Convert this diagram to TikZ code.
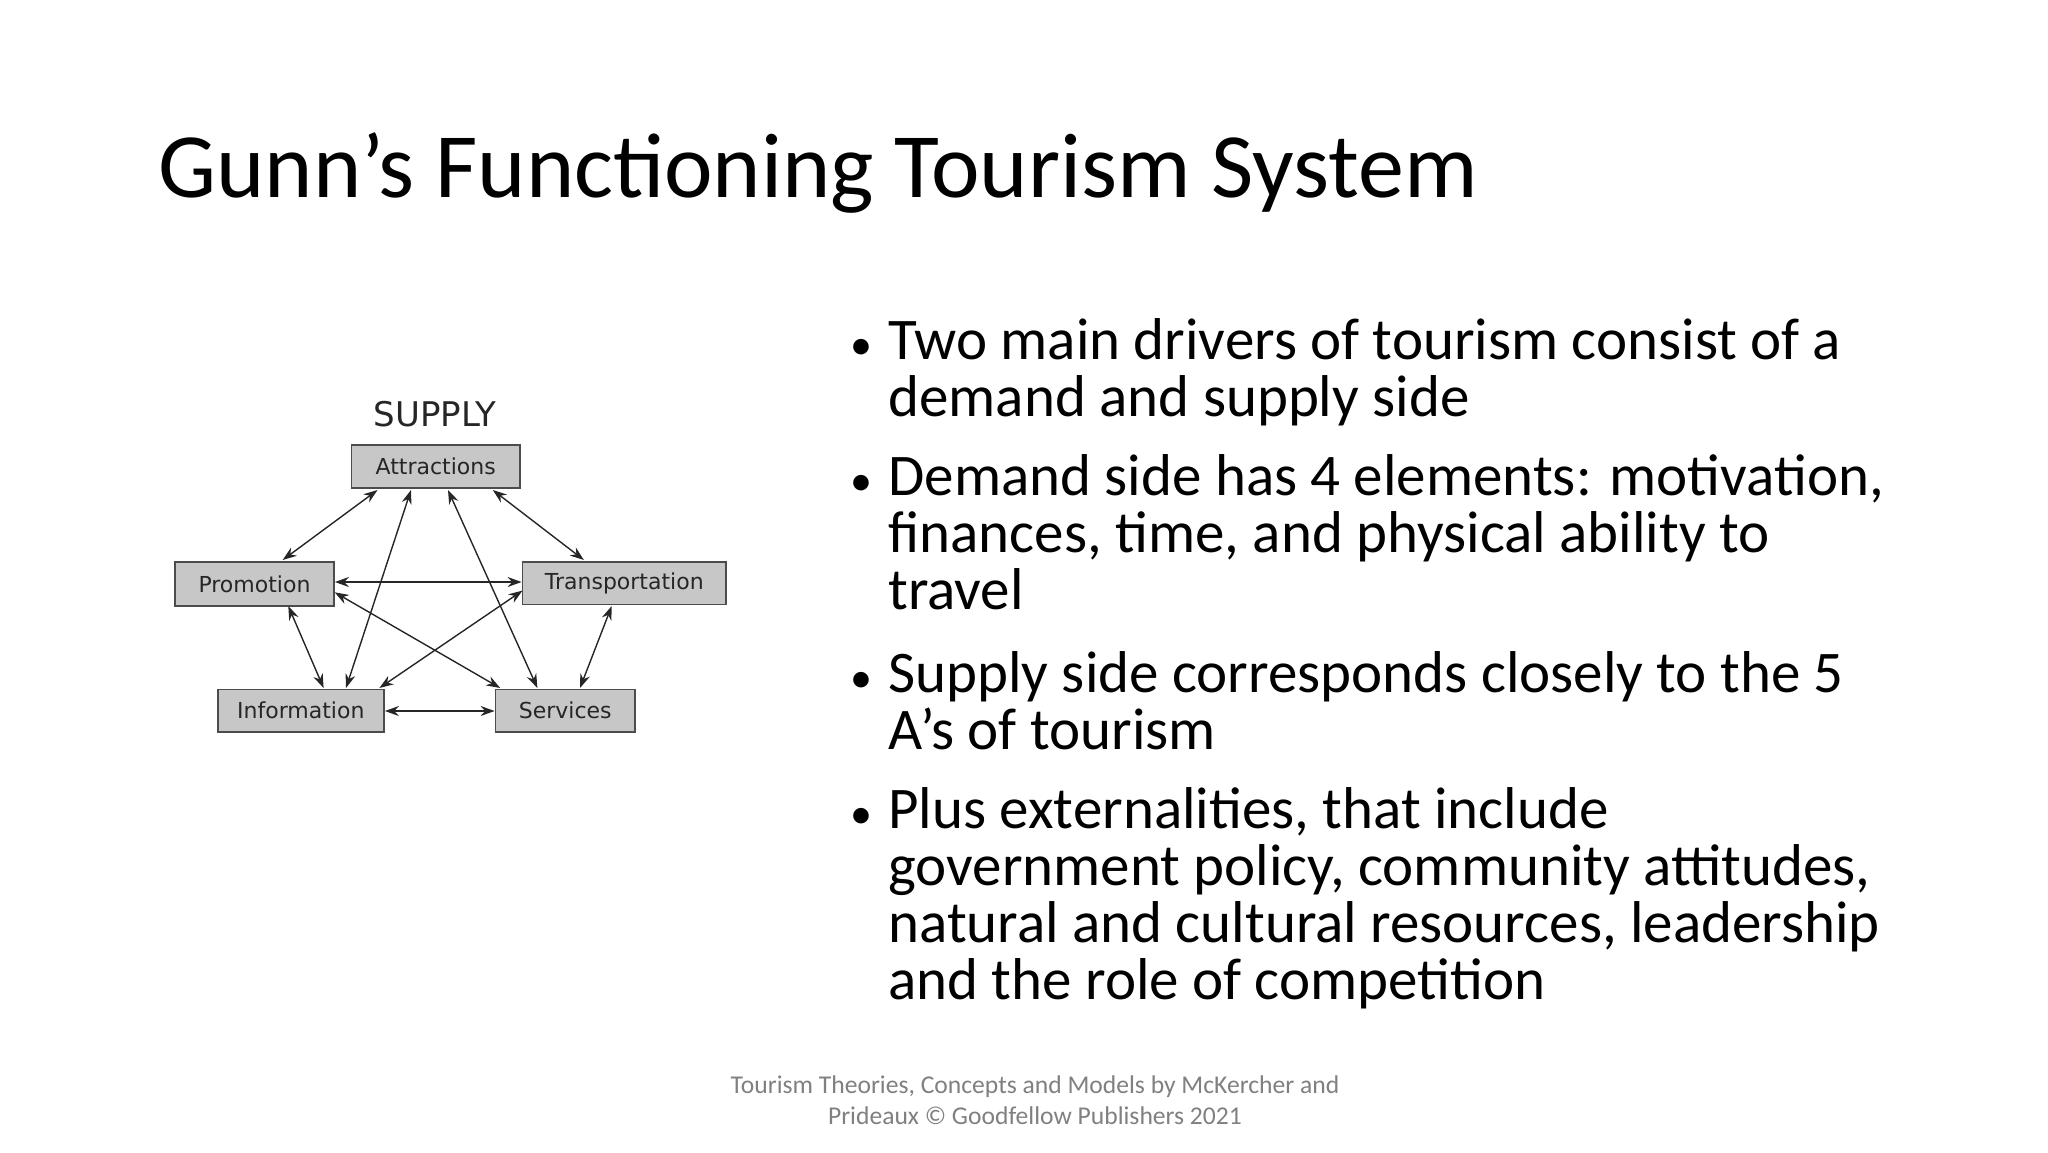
\documentclass[tikz,border=0pt]{standalone}
\usepackage{fontspec}
\setmainfont{Carlito}
\newfontfamily\boxfont{DejaVu Sans}
\usetikzlibrary{arrows.meta}
\begin{document}
\begin{tikzpicture}[x=0.5pt,y=-0.5pt,
  bx/.style={draw=black!70,fill=black!22,line width=0.9pt,inner sep=0pt,font=\boxfont\fontsize{11}{13}\selectfont,text=black!85},
  ar/.style={{Stealth[length=7pt,width=5pt]}-{Stealth[length=7pt,width=5pt]},line width=0.7pt,black!85},
  ln/.style={anchor=base west,inner sep=0pt,font=\fontsize{29.5}{32}\selectfont},
  bul/.style={anchor=base west,inner sep=0pt,font=\fontsize{22}{26}\selectfont}]
\useasboundingbox (0,0) rectangle (2048,1152);
\node[anchor=base west,inner sep=0pt,font=\fontsize{46}{52}\selectfont] (title) at (158,197) {Gunn’s Functioning Tourism System};
% diagram
\begin{scope}[yshift=4pt]
\node[font=\boxfont\fontsize{17}{19}\selectfont,text=black!85] (sup) at (435,422) {SUPPLY};
\node[bx,minimum width=84.25pt,minimum height=21.5pt] (att) at (435.75,474.5) {Attractions};
\node[bx,minimum width=79.5pt,minimum height=22.2pt] (pro) at (254.5,591.8) {Promotion};
\node[bx,minimum width=101.75pt,minimum height=21.4pt] (tra) at (624.25,591) {Transportation};
\node[bx,minimum width=83.2pt,minimum height=21.25pt] (inf) at (300.8,718.75) {Information};
\node[bx,minimum width=69.75pt,minimum height=21.25pt] (ser) at (565.25,718.75) {Services};
\coordinate (a1) at (377.5,498); \coordinate (p1) at (282.7,568);
\coordinate (a2) at (411,498); \coordinate (i2) at (346,696);
\coordinate (a3) at (448,498); \coordinate (s3) at (537.4,696);
\coordinate (a4) at (492.8,498); \coordinate (t4) at (583.9,568);
\coordinate (p5) at (334.7,600.3); \coordinate (s5) at (500.2,696);
\coordinate (t6) at (522.5,598.6); \coordinate (i6) at (379.4,696);
\coordinate (p7) at (288.3,614); \coordinate (i7) at (323.6,696);
\coordinate (t8) at (611.7,614); \coordinate (s8) at (580,696);
\coordinate (h1) at (0,590); \coordinate (h2) at (0,719);
\end{scope}
\draw[ar] (a1) -- (p1);
\draw[ar] (a2) -- (i2);
\draw[ar] (a3) -- (s3);
\draw[ar] (a4) -- (t4);
\draw[ar] (pro.east |- h1) -- (tra.west |- h1);
\draw[ar] (p5) -- (s5);
\draw[ar] (t6) -- (i6);
\draw[ar] (p7) -- (i7);
\draw[ar] (t8) -- (s8);
\draw[ar] (inf.east |- h2) -- (ser.west |- h2);
% bullets
\node[bul] (b1) at (850,359) {•};
\node[bul] (b2) at (850,495) {•};
\node[bul] (b3) at (850,692) {•};
\node[bul] (b4) at (850,828) {•};
\node[ln] (l1) at (888,359) {Two main drivers of tourism consist of a};
\node[ln] (l2) at (888,416) {demand and supply side};
\node[ln] (l3) at (888,495) {Demand side has 4 elements: motivation,};
\node[ln] (l4) at (888,552) {finances, time, and physical ability to};
\node[ln] (l5) at (888,609) {travel};
\node[ln] (l6) at (888,692) {Supply side corresponds closely to the 5};
\node[ln] (l7) at (888,749) {A’s of tourism};
\node[ln] (l8) at (888,828) {Plus externalities, that include};
\node[ln] (l9) at (888,885) {government policy, community attitudes,};
\node[ln] (l10) at (888,942) {natural and cultural resources, leadership};
\node[ln] (l11) at (888,999) {and the role of competition};
\node[align=center,text=black!50,font=\fontsize{12.8}{15.5}\selectfont] (foot) at (1035,1100) {Tourism Theories, Concepts and Models by McKercher and\\Prideaux © Goodfellow Publishers 2021};
\end{tikzpicture}
\end{document}
